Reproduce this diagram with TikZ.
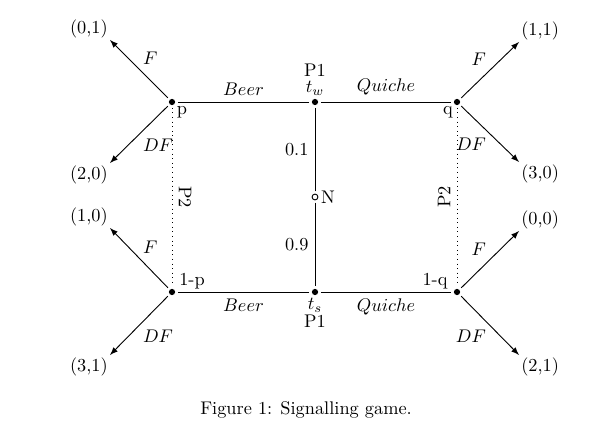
\documentclass[tikz,border=0pt]{standalone}
\usepackage{amsmath}
\usetikzlibrary{positioning}

\tikzset{
  dec/.style={circle,fill,inner sep=0pt,minimum size=3.4pt,outer sep=1.5pt},
  chance/.style={circle,draw,fill=white,inner sep=0pt,minimum size=3.2pt,outer sep=1.5pt},
  act/.style={->,>=latex},
  info/.style={dotted},
  lab/.style={inner sep=2pt},
  pay/.style={inner sep=1pt},
  txt/.style={inner sep=0.5pt},
}

\begin{document}
\begin{tikzpicture}[x=0.546pt,y=0.546pt,yscale=-1,xscale=1,line width=0.5pt]
\useasboundingbox (0,0) rectangle (606,444);

%Decision nodes
\node[dec] (tw) at (315,102) {};
\node[chance] (n) at (315,197) {};
\node[dec] (ts) at (315,292) {};
\node[dec] (p) at (172,102) {};
\node[dec] (q) at (457,102) {};
\node[dec] (onep) at (172,292) {};
\node[dec] (oneq) at (457,292) {};

%Nature's move
\draw (n) -- node[left] {0.1} (tw);
\draw (n) -- node[left] {0.9} (ts);

%Signals
\draw (tw) -- node[above] {$Beer$} (p);
\draw (tw) -- node[above] {$Quiche$} (q);
\draw (ts) -- node[below] {$Beer$} (onep);
\draw (ts) -- node[below] {$Quiche$} (oneq);

%Information sets
\draw[info] (p) -- (onep);
\draw[info] (q) -- (oneq);

%Responses
\coordinate (e1) at (110,40);
\coordinate (e2) at (110,163);
\coordinate (e3) at (519,42);
\coordinate (e4) at (519,162);
\coordinate (e5) at (110,228);
\coordinate (e6) at (110,355);
\coordinate (e7) at (519,231);
\coordinate (e8) at (519,355);
\draw[act] (p) -- node[lab,above right] {$F$} (e1);
\draw[act] (p) -- node[lab,below right] {$DF$} (e2);
\draw[act] (q) -- node[lab,above left] {$F$} (e3);
\draw[act] (q) -- node[lab,below left] {$DF$} (e4);
\draw[act] (onep) -- node[lab,above right] {$F$} (e5);
\draw[act] (onep) -- node[lab,below right] {$DF$} (e6);
\draw[act] (oneq) -- node[lab,above left] {$F$} (e7);
\draw[act] (oneq) -- node[lab,below left] {$DF$} (e8);

%Payoffs
\node[pay,anchor=south east] (pay1) at (e1) {(0,1)};
\node[pay,anchor=north east] (pay2) at (e2) {(2,0)};
\node[pay,anchor=south west] (pay3) at (e3) {(1,1)};
\node[pay,anchor=north west] (pay4) at (e4) {(3,0)};
\node[pay,anchor=south east] (pay5) at (e5) {(1,0)};
\node[pay,anchor=north east] (pay6) at (e6) {(3,1)};
\node[pay,anchor=south west] (pay7) at (e7) {(0,0)};
\node[pay,anchor=north west] (pay8) at (e8) {(2,1)};

% Text Node
\node[txt] (twp) at (315,70) {P1};
\node[txt] (twl) at (315,88) {$t_w$};
\node[txt] (tsl) at (315,305) {$t_s$};
\node[txt] (tsp) at (315,321) {P1};
\node[txt] (nl) at (328,197) {N};
\node[txt] (pl) at (182,112) {p};
\node[txt] (onepl) at (192,281) {1-p};
\node[txt] (ql) at (448,112) {q};
\node[txt] (oneql) at (435,281) {1-q};
\node[txt,rotate=-90] (ptwoa) at (185,197) {P2};
\node[txt,rotate=90] (ptwob) at (444,197) {P2};

% Caption
\node (cap) at (306,410) {Figure 1: Signalling game.};

\end{tikzpicture}
\end{document}
